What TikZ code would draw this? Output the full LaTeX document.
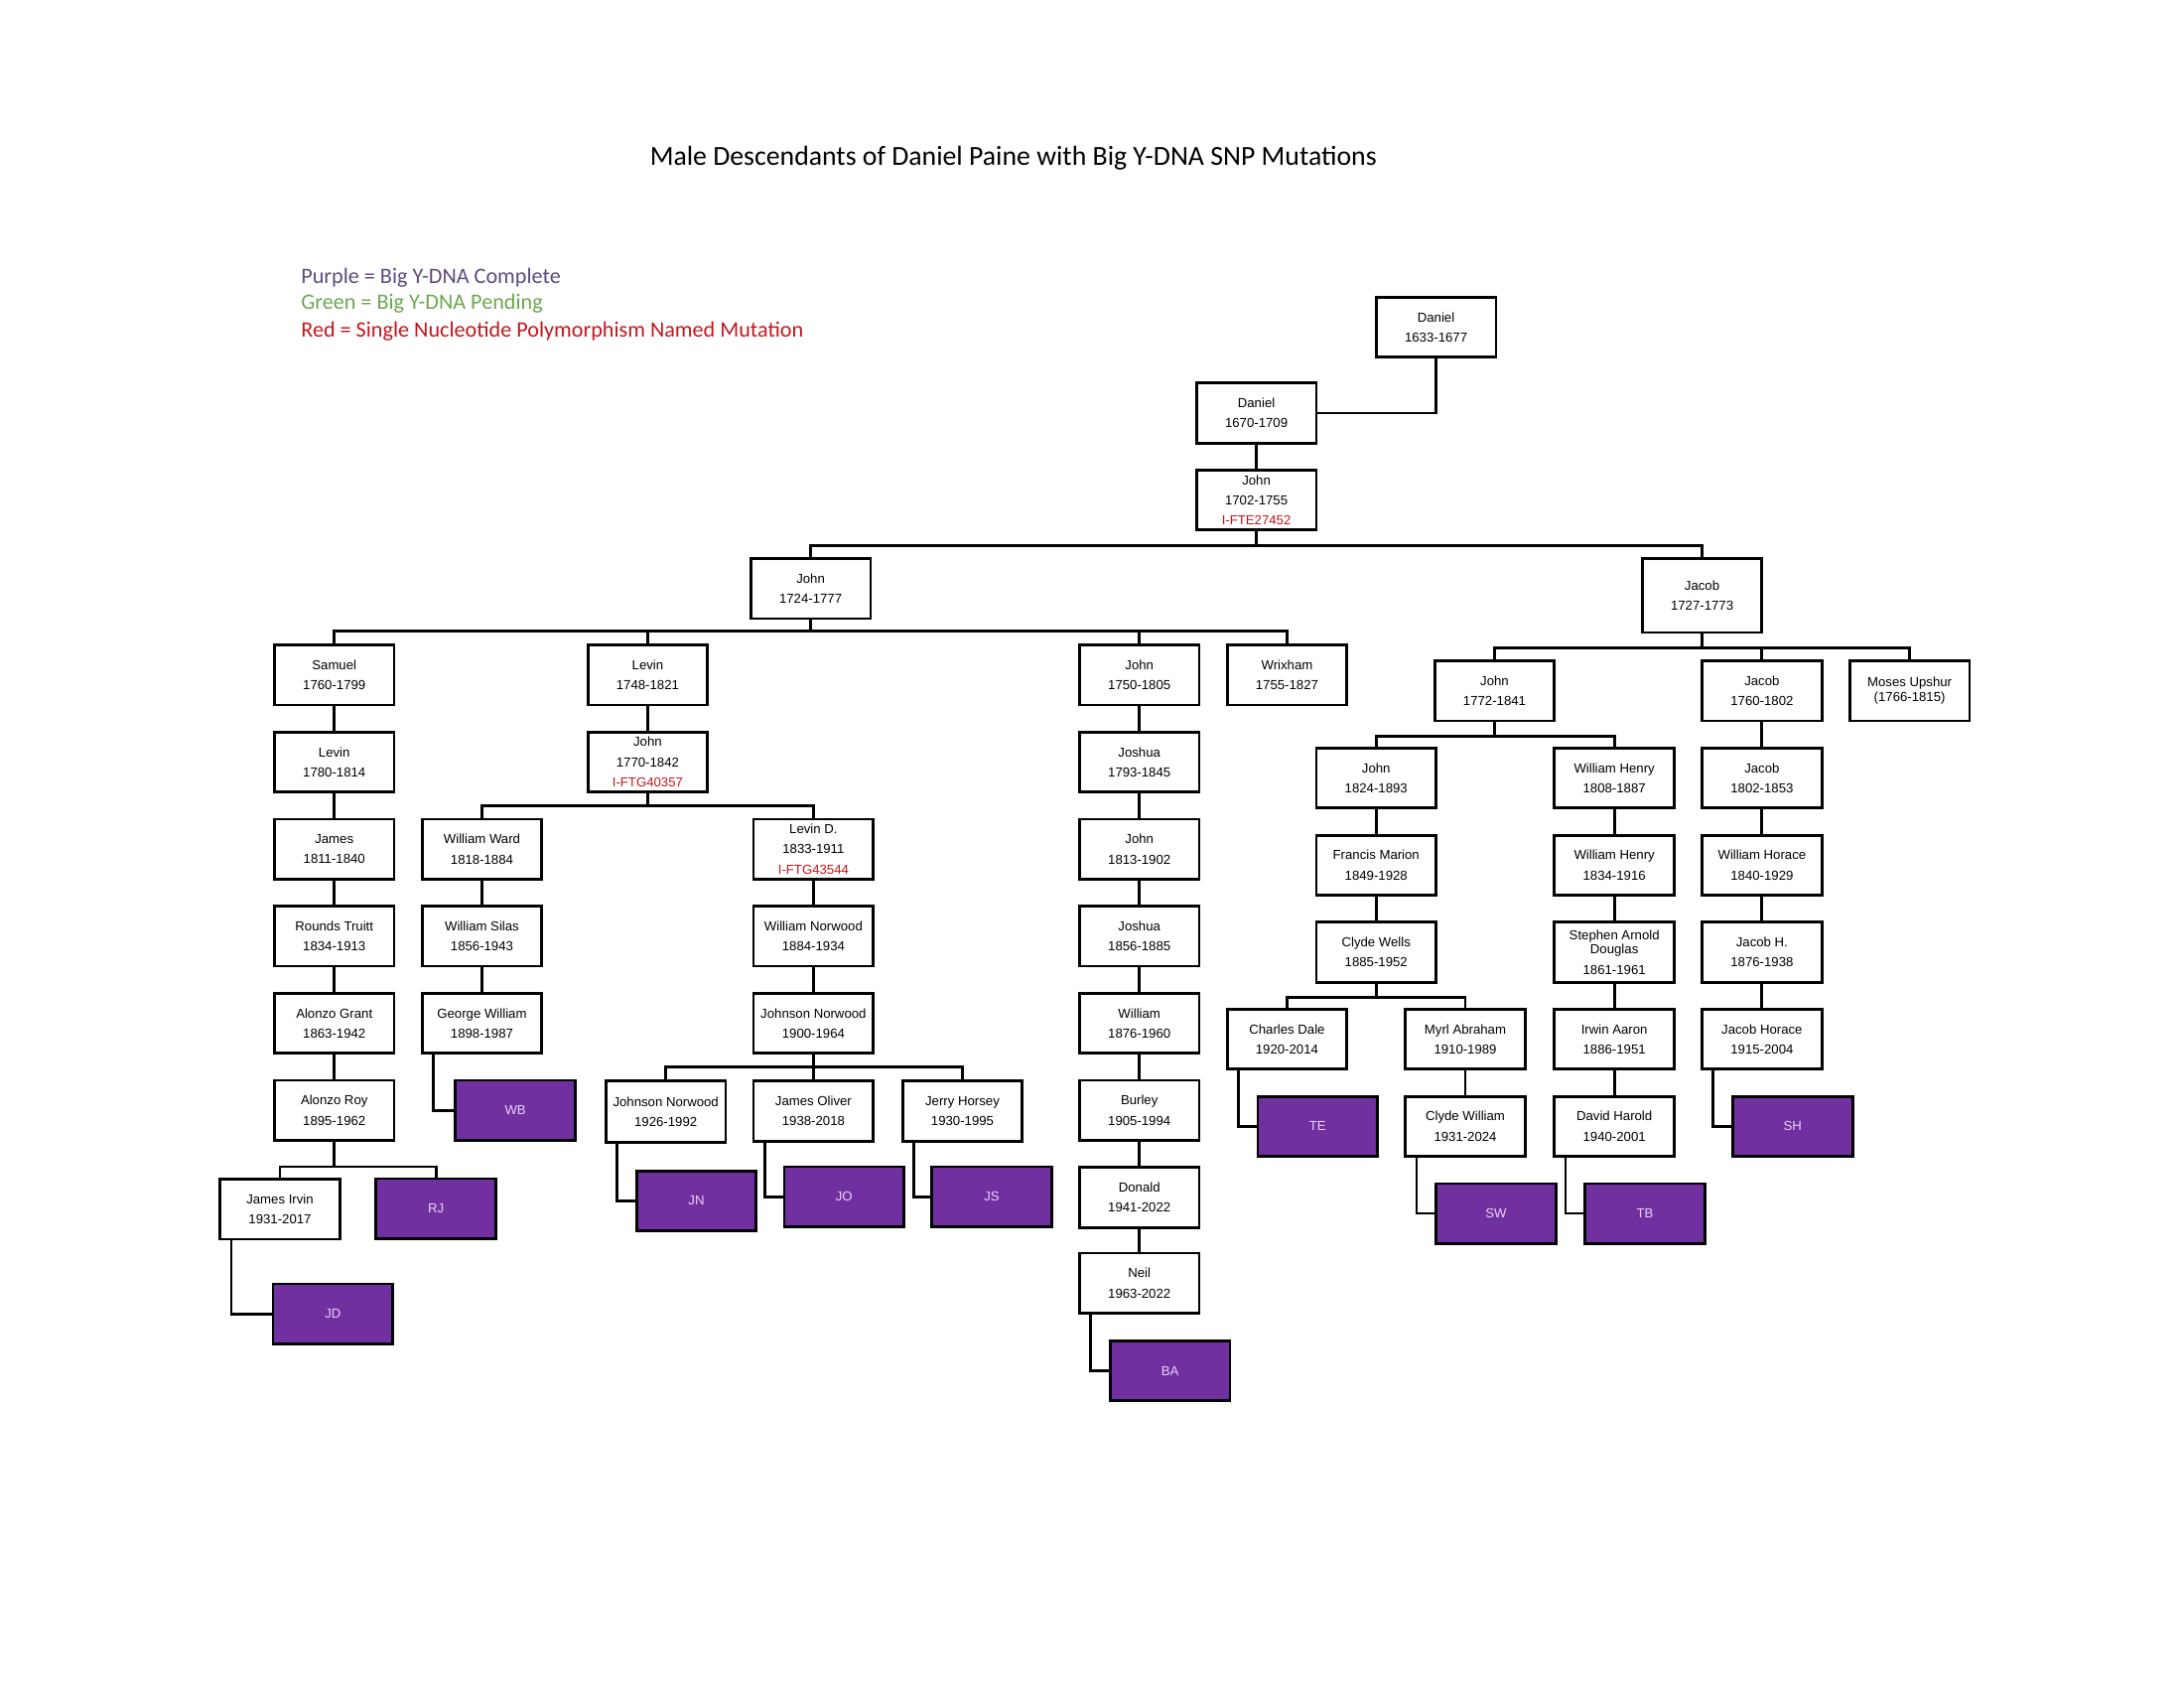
\documentclass[tikz,border=0pt]{standalone}
\usepackage{fontspec}
\setmainfont{Liberation Sans}
\newfontfamily\carlito{Carlito}
\definecolor{ydnapurple}{HTML}{7030A0}
\definecolor{legpurple}{HTML}{604A7B}
\definecolor{leggreen}{HTML}{6AA84F}
\definecolor{snpred}{HTML}{C4161C}
\definecolor{initials}{HTML}{EBD3F8}
\newcommand{\snp}[1]{\textcolor{snpred}{#1}}
\tikzset{
  person/.style={draw,line width=2pt,fill=white,minimum width=86pt,minimum height=43pt,
    inner sep=0pt,align=center,font=\fontsize{9.4}{14.5}\selectfont},
  tested/.style={person,fill=ydnapurple,text=initials},
  link/.style={line width=2pt},
  legend/.style={anchor=west,inner sep=0pt,font=\carlito\fontsize{15.8}{19}\selectfont},
}

\begin{document}
\begin{tikzpicture}[x=1pt,y=-1pt]
  \useasboundingbox (0,0) rectangle (1568,1212);
  % title and key
  \node[font=\carlito\fontsize{19.8}{23}\selectfont] (title) at (727.5,113.5) {Male Descendants of Daniel Paine with Big Y-DNA SNP Mutations};
  \node[legend,text=legpurple] (keydone) at (216,199) {Purple = Big Y-DNA Complete};
  \node[legend,text=leggreen] (keywait) at (216,218) {Green = Big Y-DNA Pending};
  \node[legend,text=snpred] (keysnp) at (216,237.5) {Red = Single Nucleotide Polymorphism Named Mutation};
  % first generations
  \node[person] (d1633) at (1031,235) {Daniel\\1633-1677};
  \node[person] (d1670) at (902,296.5) {Daniel\\1670-1709};
  \node[person] (j1702) at (902,359) {John\\1702-1755\\\snp{I-FTE27452}};
  \node[person] (j1724) at (582,422.5) {John\\1724-1777};
  \node[person,minimum height=53pt] (jac1727) at (1222,427.5) {Jacob\\1727-1773};
  % sons of John 1724
  \node[person] (samuel) at (240,484.5) {Samuel\\1760-1799};
  \node[person] (lev1748) at (465,484.5) {Levin\\1748-1821};
  \node[person] (j1750) at (818,484.5) {John\\1750-1805};
  \node[person] (wrix) at (924,484.5) {Wrixham\\1755-1827};
  % sons of Jacob 1727
  \node[person] (j1772) at (1073,496) {John\\1772-1841};
  \node[person] (jac1760) at (1265,496) {Jacob\\1760-1802};
  \node[person] (moses) at (1371,496) {Moses Upshur\\[-4pt](1766-1815)};
  % Samuel line
  \node[person] (lev1780) at (240,547) {Levin\\1780-1814};
  \node[person] (james) at (240,609.5) {James\\1811-1840};
  \node[person] (rounds) at (240,672) {Rounds Truitt\\1834-1913};
  \node[person] (alonzog) at (240,734.5) {Alonzo Grant\\1863-1942};
  \node[person] (alonzor) at (240,797) {Alonzo Roy\\1895-1962};
  \node[person] (jirvin) at (201,868) {James Irvin\\1931-2017};
  \node[tested] (rj) at (313,867.5) {RJ};
  \node[tested] (jd) at (239,943) {JD};
  % Levin 1748 line
  \node[person] (j1770) at (465,547) {John\\1770-1842\\\snp{I-FTG40357}};
  \node[person] (wward) at (346,609.5) {William Ward\\1818-1884};
  \node[person] (wsilas) at (346,672) {William Silas\\1856-1943};
  \node[person] (george) at (346,734.5) {George William\\1898-1987};
  \node[tested] (wb) at (370,797) {WB};
  \node[person] (levind) at (584,609.5) {Levin D.\\1833-1911\\\snp{I-FTG43544}};
  \node[person] (wnor) at (584,672) {William Norwood\\1884-1934};
  \node[person] (jnor1900) at (584,734.5) {Johnson Norwood\\1900-1964};
  \node[person,minimum height=44pt] (jnor1926) at (478,798) {Johnson Norwood\\1926-1992};
  \node[person] (joliver) at (584,797.5) {James Oliver\\1938-2018};
  \node[person] (jerry) at (691,797.5) {Jerry Horsey\\1930-1995};
  \node[tested] (jn) at (500,862) {JN};
  \node[tested] (jo) at (606,859) {JO};
  \node[tested] (js) at (712,859) {JS};
  % John 1750 line
  \node[person] (josh1793) at (818,547) {Joshua\\1793-1845};
  \node[person] (j1813) at (818,609.5) {John\\1813-1902};
  \node[person] (josh1856) at (818,672) {Joshua\\1856-1885};
  \node[person] (william) at (818,734.5) {William\\1876-1960};
  \node[person] (burley) at (818,797) {Burley\\1905-1994};
  \node[person] (donald) at (818,859.5) {Donald\\1941-2022};
  \node[person] (neil) at (818,921) {Neil\\1963-2022};
  \node[tested] (ba) at (840,984) {BA};
  % John 1772 line
  \node[person] (j1824) at (988,558.5) {John\\1824-1893};
  \node[person] (fmarion) at (988,621) {Francis Marion\\1849-1928};
  \node[person] (cwells) at (988,683.5) {Clyde Wells\\1885-1952};
  \node[person] (cdale) at (924,746) {Charles Dale\\1920-2014};
  \node[person] (myrl) at (1052,746) {Myrl Abraham\\1910-1989};
  \node[tested] (te) at (946,808.5) {TE};
  \node[person] (cwilliam) at (1052,808.5) {Clyde William\\1931-2024};
  \node[tested] (sw) at (1074,871) {SW};
  \node[person] (wh1808) at (1159,558.5) {William Henry\\1808-1887};
  \node[person] (wh1834) at (1159,621) {William Henry\\1834-1916};
  \node[person] (stephen) at (1159,683.5) {Stephen Arnold\\[-4pt]Douglas\\1861-1961};
  \node[person] (irwin) at (1159,746) {Irwin Aaron\\1886-1951};
  \node[person] (david) at (1159,808.5) {David Harold\\1940-2001};
  \node[tested] (tb) at (1181,871) {TB};
  % Jacob 1760 line
  \node[person] (jac1802) at (1265,558.5) {Jacob\\1802-1853};
  \node[person] (whorace) at (1265,621) {William Horace\\1840-1929};
  \node[person] (jacobh) at (1265,683.5) {Jacob H.\\1876-1938};
  \node[person] (jhorace) at (1265,746) {Jacob Horace\\1915-2004};
  \node[tested] (sh) at (1287,808.5) {SH};

  % connectors
  \draw[link] (d1633.south) |- (d1670.east);
  \draw[link] (d1670) -- (j1702);
  \foreach \c in {j1724,jac1727} \draw[link] (j1702.south) -- ++(0,10) -| (\c.north);
  \foreach \c in {samuel,lev1748,j1750,wrix} \draw[link] (j1724.south) -- ++(0,8) -| (\c.north);
  \foreach \c in {j1772,jac1760,moses} \draw[link] (jac1727.south) -- ++(0,10) -| (\c.north);
  \foreach \c in {jirvin,rj} \draw[link] (alonzor.south) -- ++(0,18) -| (\c.north);
  \foreach \c in {wward,levind} \draw[link] (j1770.south) -- ++(0,9) -| (\c.north);
  \foreach \c in {jnor1926,joliver,jerry} \draw[link] (jnor1900.south) -- ++(0,9) -| (\c.north);
  \foreach \c in {j1824,wh1808} \draw[link] (j1772.south) -- ++(0,10) -| (\c.north);
  \foreach \c in {cdale,myrl} \draw[link] (cwells.south) -- ++(0,10) -| (\c.north);
  \foreach \a/\b in {samuel/lev1780,lev1780/james,james/rounds,rounds/alonzog,alonzog/alonzor,
      lev1748/j1770,wward/wsilas,wsilas/george,levind/wnor,wnor/jnor1900,
      j1750/josh1793,josh1793/j1813,j1813/josh1856,josh1856/william,william/burley,burley/donald,donald/neil,
      j1824/fmarion,fmarion/cwells,myrl/cwilliam,wh1808/wh1834,wh1834/stephen,stephen/irwin,irwin/david,
      jac1760/jac1802,jac1802/whorace,whorace/jacobh,jacobh/jhorace}
    \draw[link] (\a) -- (\b);
  \foreach \a/\b in {jirvin/jd,george/wb,jnor1926/jn,joliver/jo,jerry/js,neil/ba,
      cdale/te,cwilliam/sw,david/tb,jhorace/sh}
    \draw[link] ([xshift=-35pt]\a.south) |- (\b.west);
\end{tikzpicture}
\end{document}
